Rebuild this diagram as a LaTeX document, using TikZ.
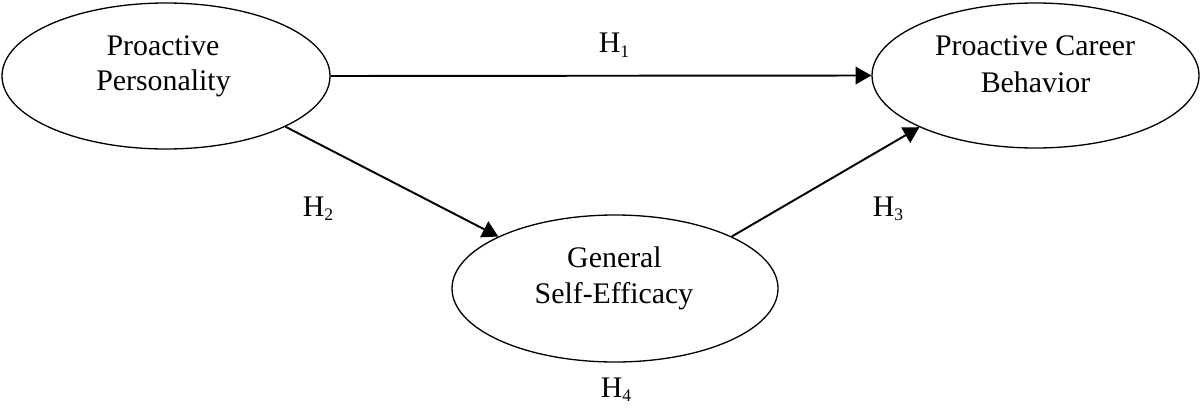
\documentclass[tikz,border=0pt]{standalone}
\usepackage{fontspec}
\setmainfont{Liberation Serif}
\usetikzlibrary{arrows.meta,shapes.geometric}
\newcommand{\hsub}[1]{H\raisebox{-2.7pt}{\fontsize{10}{10}\selectfont #1}}
\begin{document}
\begin{tikzpicture}[
  construct/.style={draw, line width=0.75pt, ellipse, inner sep=0pt},
  txt/.style={anchor=base, inner sep=0pt, font=\fontsize{17}{20}\selectfont},
  hyp/.style={anchor=base, inner sep=0pt, font=\fontsize{17}{20}\selectfont},
  hpath/.style={line width=1.1pt, -{Triangle[length=9pt,width=10pt]}}
]
\useasboundingbox (0,0) rectangle (24,8.16);
\node[construct, minimum width=6.56cm, minimum height=2.92cm] (pp) at (3.32,6.64) {};
\node[construct, minimum width=6.54cm, minimum height=2.9cm] (pcb) at (20.71,6.65) {};
\node[construct, minimum width=6.52cm, minimum height=2.94cm] (gse) at (12.3,2.39) {};

\node[txt] (pp1) at (3.26,7.06) {Proactive};
\node[txt] (pp2) at (3.27,6.36) {Personality};
\node[txt] (pcb1) at (20.7,7.06) {Proactive Career};
\node[txt] (pcb2) at (20.71,6.32) {Behavior};
\node[txt] (gse1) at (12.29,2.82) {General};
\node[txt] (gse2) at (12.28,2.10) {Self-Efficacy};

\draw[hpath] (pp.east) -- (pcb.west);
\draw[hpath] (pp.-23.5) -- (gse.156);
\draw[hpath] (gse.24) -- (pcb.204);

\node[hyp] (h1) at (12.28,7.1) {\hsub{1}};
\node[hyp] (h2) at (6.36,3.84) {\hsub{2}};
\node[hyp] (h3) at (17.76,3.84) {\hsub{3}};
\node[hyp] (h4) at (12.32,0.22) {\hsub{4}};
\end{tikzpicture}
\end{document}
